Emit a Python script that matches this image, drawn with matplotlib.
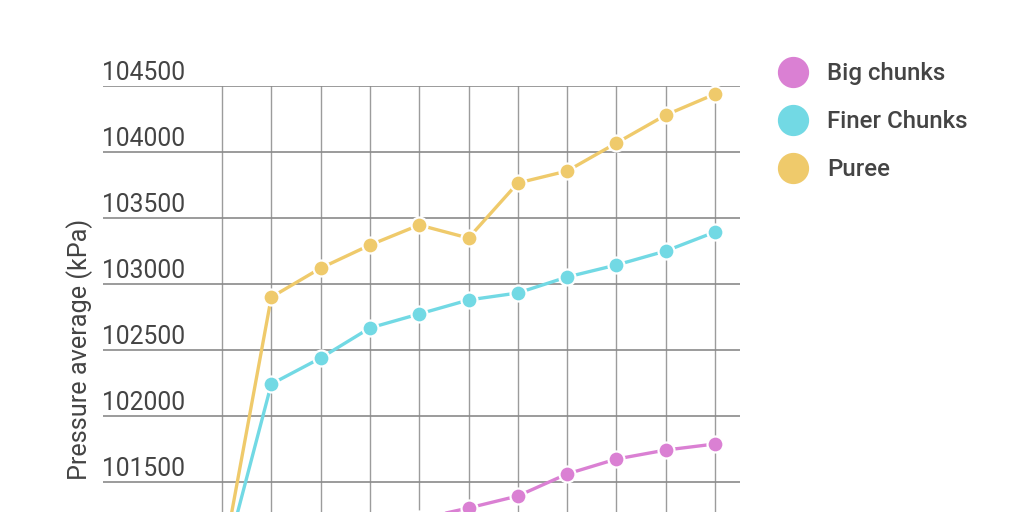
import matplotlib.pyplot as plt
from matplotlib.lines import Line2D
from matplotlib.transforms import blended_transform_factory

plt.rcParams['font.family'] = ['Roboto', 'DejaVu Sans']

# measurement index (x axis labels are cut off in the reference)
steps = list(range(11))

big_chunks = [100800, 100950, 101060, 101150, 101220, 101303, 101394, 101561, 101674, 101742, 101788]
finer_chunks = [100820, 102242, 102439, 102667, 102773, 102879, 102932, 103053, 103144, 103250, 103394]
puree = [100870, 102900, 103120, 103295, 103447, 103348, 103765, 103856, 104068, 104280, 104439]

series_names = ["Big chunks", "Finer Chunks", "Puree"]
series_colors = ["#da80d3", "#72d9e4", "#efca6b"]

# only the gridlines visible in the cropped view
y_ticks = [101500, 102000, 102500, 103000, 103500, 104000, 104500]

text_color = "#444444"

fig = plt.figure(figsize=(10.24, 5.12), dpi=100)
# the chart runs past the bottom of the image, like the reference crop
ax = fig.add_axes([103 / 1024, 1 - 614 / 512, 637 / 1024, 528 / 512])
ax.set_xlim(-2.414, 10.507)
ax.set_ylim(100500, 104500)

for name, vals, col in zip(series_names, [big_chunks, finer_chunks, puree], series_colors):
    ax.plot(steps, vals, color=col, lw=2.4, marker='o', ms=11.5, mfc=col,
            mec='white', mew=1.6, solid_capstyle='round', zorder=3)

# grid
ax.set_yticks(y_ticks)
ax.set_xticks(steps)
ax.grid(axis='y', color='#8a8a8a', lw=1.2, zorder=0)
ax.grid(axis='x', color='#9c9c9c', lw=1.0, zorder=0)
ax.tick_params(left=False, bottom=False, labelleft=False, labelbottom=False)
for s in ax.spines.values():
    s.set_visible(False)

# tick labels sit above the gridlines
tr = blended_transform_factory(ax.transAxes, ax.transData)
for t in y_ticks:
    ax.annotate(str(t), xy=(-0.002, t), xycoords=tr, xytext=(0, 4.3),
                textcoords='offset points', ha='left', va='baseline',
                fontsize=17.7, color=text_color)

fig.text(80 / 1024, 1 - 349 / 512, "Pressure average (kPa)", rotation=90,
         ha='center', va='center', fontsize=18.2, color=text_color)

# legend
for i, (name, col) in enumerate(zip(series_names, series_colors)):
    yc = 1 - (72 + 48 * i) / 512
    fig.add_artist(Line2D([793 / 1024], [yc], transform=fig.transFigure,
                          marker='o', ms=21.5, color=col, ls=''))
    fig.text(827 / 1024, 1 - (80 + 48 * i) / 512, name, ha='left', va='baseline',
             fontsize=17.3, fontweight='medium', color=text_color)

fig.savefig("out.png", dpi=100)
